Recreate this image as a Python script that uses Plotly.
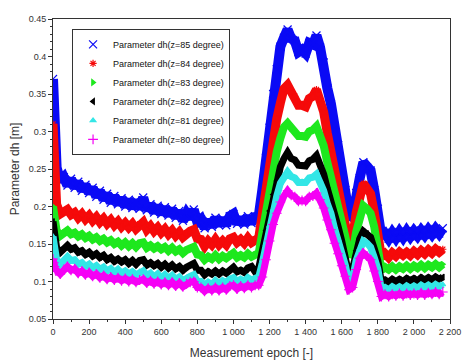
import plotly.graph_objects as go

epochs = [0, 4, 8, 12, 16] + list(range(20, 2180, 20))

dh_z85 = [0.370, 0.318, 0.292, 0.268, 0.258,
          0.252, 0.234, 0.239, 0.228, 0.237, 0.225, 0.233, 0.221, 0.229, 0.218,
          0.225, 0.213, 0.221, 0.209, 0.217, 0.205, 0.214, 0.203, 0.211, 0.200,
          0.209, 0.198, 0.208, 0.197, 0.212, 0.195, 0.203, 0.192, 0.201, 0.190,
          0.199, 0.188, 0.197, 0.185, 0.194, 0.181, 0.191, 0.184, 0.196, 0.179,
          0.183, 0.171, 0.182, 0.173, 0.185, 0.175, 0.184, 0.175, 0.187, 0.190,
          0.177, 0.185, 0.176, 0.187, 0.178, 0.186, 0.187, 0.222, 0.265, 0.305,
          0.350, 0.383, 0.413, 0.425, 0.436, 0.424, 0.421, 0.406, 0.409, 0.404,
          0.418, 0.416, 0.428, 0.412, 0.392, 0.358, 0.337, 0.303, 0.282, 0.248,
          0.222, 0.190, 0.186, 0.218, 0.238, 0.259, 0.252, 0.248, 0.222, 0.197,
          0.160, 0.164, 0.157, 0.165, 0.158, 0.166, 0.159, 0.167, 0.160, 0.167,
          0.161, 0.168, 0.162, 0.169, 0.163, 0.170, 0.164, 0.171]

dh_z84 = [0.310, 0.270, 0.236, 0.216, 0.205,
          0.203, 0.190, 0.193, 0.196, 0.189, 0.192, 0.185, 0.190, 0.183, 0.188,
          0.181, 0.186, 0.179, 0.184, 0.177, 0.182, 0.175, 0.180, 0.173, 0.178,
          0.172, 0.177, 0.170, 0.177, 0.179, 0.169, 0.174, 0.167, 0.172, 0.165,
          0.170, 0.163, 0.168, 0.161, 0.166, 0.159, 0.165, 0.167, 0.169, 0.157,
          0.156, 0.147, 0.154, 0.149, 0.156, 0.149, 0.154, 0.149, 0.157, 0.159,
          0.152, 0.156, 0.151, 0.158, 0.152, 0.157, 0.158, 0.190, 0.225, 0.258,
          0.290, 0.317, 0.338, 0.357, 0.362, 0.352, 0.347, 0.335, 0.335, 0.333,
          0.344, 0.347, 0.356, 0.343, 0.326, 0.298, 0.276, 0.248, 0.226, 0.199,
          0.176, 0.148, 0.157, 0.192, 0.213, 0.231, 0.224, 0.217, 0.193, 0.168,
          0.133, 0.137, 0.132, 0.138, 0.134, 0.139, 0.135, 0.139, 0.135, 0.140,
          0.136, 0.141, 0.137, 0.142, 0.138, 0.143, 0.139, 0.143]

dh_z83 = [0.200, 0.190, 0.180, 0.172, 0.168,
          0.168, 0.161, 0.165, 0.168, 0.163, 0.165, 0.160, 0.163, 0.158, 0.161,
          0.156, 0.159, 0.154, 0.157, 0.152, 0.155, 0.150, 0.153, 0.148, 0.152,
          0.147, 0.151, 0.146, 0.151, 0.152, 0.145, 0.148, 0.144, 0.147, 0.143,
          0.146, 0.141, 0.145, 0.140, 0.143, 0.138, 0.142, 0.144, 0.146, 0.136,
          0.135, 0.129, 0.133, 0.130, 0.135, 0.130, 0.134, 0.131, 0.136, 0.138,
          0.132, 0.135, 0.132, 0.137, 0.133, 0.136, 0.138, 0.165, 0.195, 0.224,
          0.250, 0.273, 0.291, 0.306, 0.311, 0.304, 0.301, 0.294, 0.294, 0.293,
          0.300, 0.302, 0.307, 0.297, 0.281, 0.259, 0.241, 0.219, 0.201, 0.179,
          0.160, 0.134, 0.139, 0.166, 0.188, 0.201, 0.197, 0.191, 0.173, 0.150,
          0.115, 0.119, 0.116, 0.120, 0.116, 0.120, 0.117, 0.121, 0.117, 0.121,
          0.118, 0.122, 0.118, 0.122, 0.119, 0.123, 0.119, 0.123]

dh_z82 = [0.180, 0.170, 0.158, 0.150, 0.146,
          0.145, 0.139, 0.145, 0.148, 0.143, 0.145, 0.139, 0.141, 0.136, 0.139,
          0.134, 0.137, 0.132, 0.135, 0.129, 0.132, 0.127, 0.130, 0.126, 0.129,
          0.124, 0.128, 0.123, 0.128, 0.129, 0.122, 0.125, 0.121, 0.124, 0.119,
          0.123, 0.118, 0.122, 0.117, 0.120, 0.115, 0.119, 0.122, 0.124, 0.115,
          0.115, 0.109, 0.113, 0.110, 0.114, 0.110, 0.114, 0.111, 0.116, 0.119,
          0.113, 0.115, 0.112, 0.118, 0.120, 0.113, 0.118, 0.140, 0.168, 0.194,
          0.216, 0.234, 0.253, 0.264, 0.272, 0.264, 0.262, 0.255, 0.255, 0.254,
          0.261, 0.263, 0.268, 0.257, 0.243, 0.224, 0.209, 0.189, 0.173, 0.154,
          0.135, 0.109, 0.117, 0.141, 0.157, 0.167, 0.164, 0.159, 0.144, 0.128,
          0.099, 0.102, 0.099, 0.103, 0.100, 0.103, 0.100, 0.104, 0.101, 0.104,
          0.101, 0.105, 0.102, 0.105, 0.102, 0.106, 0.103, 0.106]

dh_z81 = [0.160, 0.150, 0.140, 0.133, 0.129,
          0.129, 0.123, 0.129, 0.133, 0.128, 0.129, 0.123, 0.125, 0.120, 0.123,
          0.118, 0.121, 0.116, 0.119, 0.114, 0.117, 0.112, 0.116, 0.111, 0.114,
          0.110, 0.113, 0.109, 0.113, 0.114, 0.108, 0.111, 0.106, 0.110, 0.105,
          0.109, 0.104, 0.108, 0.103, 0.106, 0.101, 0.105, 0.107, 0.109, 0.100,
          0.100, 0.095, 0.099, 0.096, 0.101, 0.097, 0.101, 0.098, 0.103, 0.105,
          0.100, 0.103, 0.100, 0.105, 0.102, 0.105, 0.106, 0.125, 0.149, 0.174,
          0.196, 0.214, 0.231, 0.239, 0.246, 0.240, 0.238, 0.232, 0.233, 0.232,
          0.238, 0.239, 0.243, 0.234, 0.221, 0.204, 0.191, 0.171, 0.156, 0.139,
          0.122, 0.099, 0.104, 0.128, 0.144, 0.154, 0.151, 0.146, 0.132, 0.117,
          0.089, 0.092, 0.089, 0.093, 0.090, 0.093, 0.090, 0.094, 0.091, 0.094,
          0.091, 0.095, 0.092, 0.095, 0.092, 0.096, 0.093, 0.096]

dh_z80 = [0.130, 0.125, 0.120, 0.116, 0.114,
          0.115, 0.110, 0.116, 0.120, 0.115, 0.117, 0.111, 0.114, 0.109, 0.112,
          0.107, 0.110, 0.105, 0.108, 0.103, 0.106, 0.102, 0.105, 0.101, 0.104,
          0.100, 0.103, 0.099, 0.102, 0.103, 0.098, 0.101, 0.097, 0.100, 0.096,
          0.099, 0.095, 0.099, 0.094, 0.098, 0.093, 0.097, 0.099, 0.100, 0.092,
          0.092, 0.087, 0.091, 0.088, 0.092, 0.088, 0.092, 0.089, 0.094, 0.095,
          0.090, 0.094, 0.091, 0.095, 0.092, 0.095, 0.095, 0.106, 0.129, 0.154,
          0.176, 0.191, 0.206, 0.214, 0.221, 0.215, 0.213, 0.207, 0.208, 0.207,
          0.213, 0.214, 0.218, 0.209, 0.198, 0.182, 0.169, 0.151, 0.137, 0.121,
          0.107, 0.089, 0.092, 0.116, 0.131, 0.138, 0.134, 0.129, 0.114, 0.100,
          0.080, 0.083, 0.080, 0.083, 0.081, 0.084, 0.081, 0.084, 0.082, 0.084,
          0.082, 0.085, 0.082, 0.085, 0.083, 0.086, 0.083, 0.086]

series_names = ["Parameter dh(z=85 degree)", "Parameter dh(z=84 degree)",
                "Parameter dh(z=83 degree)", "Parameter dh(z=82 degree)",
                "Parameter dh(z=81 degree)", "Parameter dh(z=80 degree)"]
series_values = [dh_z85, dh_z84, dh_z83, dh_z82, dh_z81, dh_z80]

x_tickvals = [0, 200, 400, 600, 800, 1000, 1200, 1400, 1600, 1800, 2000, 2200]
x_ticktext = ["0", "200", "400", "600", "800", "1 000", "1 200", "1 400",
              "1 600", "1 800", "2 000", "2 200"]
y_tickvals = [0.05, 0.1, 0.15, 0.2, 0.25, 0.3, 0.35, 0.4, 0.45]
y_ticktext = ["0.05", "0.1", "0.15", "0.2", "0.25", "0.3", "0.35", "0.4", "0.45"]

colors = ["#0a0af5", "#f50a0a", "#1ee81e", "#000000", "#33e6e6", "#f500f5"]
symbols = ["x-thin-open", "asterisk-open", "triangle-right", "triangle-left",
           "triangle-up", "cross-thin-open"]
msizes = [8, 6, 5, 5, 5, 7]
lwidths = [10, 9, 8, 7, 7, 7]

fig = go.Figure()
for name, vals, c, s, ms, lw in zip(series_names, series_values, colors, symbols, msizes, lwidths):
    fig.add_trace(go.Scatter(x=epochs, y=vals, mode="lines",
                             line=dict(color=c, width=lw), showlegend=False,
                             hoverinfo="skip"))
    fig.add_trace(go.Scatter(x=epochs, y=vals, mode="markers", name=name,
                             marker=dict(symbol=s, size=ms, color=c,
                                         line=dict(color=c, width=1.2))))

axis_common = dict(showline=True, linecolor="#333333", linewidth=1, mirror=True,
                   ticks="outside", ticklen=4, tickcolor="#333333",
                   showgrid=False, zeroline=False, automargin=False,
                   tickfont=dict(size=9, color="#333333"))

# the page body has an 8px default margin, so the figure is sized to fit inside it
fig.update_layout(
    width=466, height=354,
    margin=dict(l=45, r=24, t=11, b=43),
    paper_bgcolor="white", plot_bgcolor="white",
    font=dict(family="Liberation Sans, Arial, sans-serif", color="#333333"),
    xaxis=dict(range=[0, 2200], tickvals=x_tickvals, ticktext=x_ticktext,
               minor=dict(ticks="outside", ticklen=2, tickcolor="#333333", dtick=100, tick0=0),
               title=dict(text="Measurement epoch [-]", font=dict(size=12, color="#333333"), standoff=12),
               **axis_common),
    yaxis=dict(range=[0.05, 0.45], tickvals=y_tickvals, ticktext=y_ticktext,
               minor=dict(ticks="outside", ticklen=2, tickcolor="#333333", dtick=0.01, tick0=0.05),
               title=dict(text="Parameter dh [m]", font=dict(size=12, color="#333333"), standoff=6),
               **axis_common),
    legend=dict(x=0.048, y=0.967, xanchor="left", yanchor="top",
                bgcolor="white", bordercolor="#333333", borderwidth=1,
                font=dict(size=9, color="#111111"), tracegroupgap=0),
)

fig.write_html("out.html")
